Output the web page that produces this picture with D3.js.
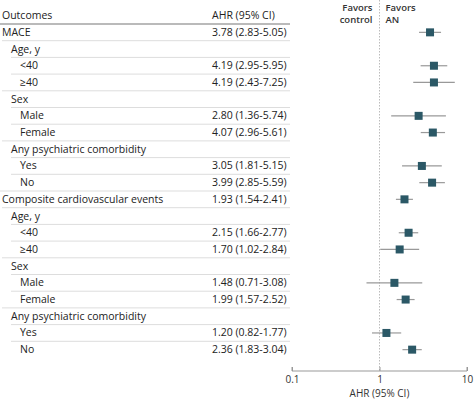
<!DOCTYPE html><html><head><meta charset="utf-8"><script src="https://cdn.jsdelivr.net/npm/d3@7"></script>
<style>body{margin:0;background:#fff}text{font-family:"Open Sans","Noto Sans",sans-serif}</style></head><body>
<svg id="c" width="474" height="402"></svg>
<script>
const labels=["MACE","Age, y","<40","≥40","Sex","Male","Female","Any psychiatric comorbidity","Yes","No","Composite cardiovascular events","Age, y","<40","≥40","Sex","Male","Female","Any psychiatric comorbidity","Yes","No"];
const levels=[0,1,2,2,1,2,2,1,2,2,0,1,2,2,1,2,2,1,2,2];
const est=[3.78,null,4.19,4.19,null,2.80,4.07,null,3.05,3.99,1.93,null,2.15,1.70,null,1.48,1.99,null,1.20,2.36];
const lo=[2.83,null,2.95,2.43,null,1.36,2.96,null,1.81,2.85,1.54,null,1.66,1.02,null,0.71,1.57,null,0.82,1.83];
const hi=[5.05,null,5.95,7.25,null,5.74,5.61,null,5.15,5.59,2.41,null,2.77,2.84,null,3.08,2.52,null,1.77,3.04];
const ticks=[0.1,1,10];
const svg=d3.select("#c");
const x=d3.scaleLog().domain([0.1,10]).range([292,467]);
const y=d3.scaleBand().domain(d3.range(labels.length)).range([24,358]);
const fmt=v=>v.toFixed(2);
svg.append("text").attr("x",2).attr("y",19).attr("font-size",10.5).attr("fill","#222").text("Outcomes");
svg.append("text").attr("x",212).attr("y",19).attr("font-size",10.5).attr("fill","#222").text("AHR (95% CI)");
svg.append("line").attr("x1",0).attr("x2",290).attr("y1",24).attr("y2",24).attr("stroke","#777").attr("stroke-width",1.2);
labels.forEach((l,i)=>{
  const cy=y(i)+y.bandwidth()/2;
  svg.append("text").attr("x",2+levels[i]*9).attr("y",cy+3.5).attr("font-size",10.5).attr("fill","#222").text(l);
  if(est[i]!=null) svg.append("text").attr("x",212).attr("y",cy+3.5).attr("font-size",10.5).attr("fill","#222").text(`${fmt(est[i])} (${fmt(lo[i])}-${fmt(hi[i])})`);
  if(i<labels.length-1) svg.append("line").attr("x1",levels[i+1]>0?(levels[i+1]-1)*9+2:0).attr("x2",290).attr("y1",y(i+1)).attr("y2",y(i+1)).attr("stroke","#ddd");
});
svg.append("line").attr("x1",x(1)).attr("x2",x(1)).attr("y1",0).attr("y2",371).attr("stroke","#bbb").attr("stroke-dasharray","1.5,1.5");
[["Favors","control",x(1)-7,"end"],["Favors","AN",x(1)+6,"start"]].forEach(([a,b,xx,an])=>{
  svg.append("text").attr("x",xx).attr("y",11).attr("font-size",9.5).attr("font-weight",600).attr("fill","#333").attr("text-anchor",an).text(a);
  svg.append("text").attr("x",xx).attr("y",23).attr("font-size",9.5).attr("font-weight",600).attr("fill","#333").attr("text-anchor",an).text(b);
});
labels.forEach((l,i)=>{
  if(est[i]==null)return;
  const cy=y(i)+y.bandwidth()/2;
  svg.append("line").attr("x1",x(lo[i])).attr("x2",x(hi[i])).attr("y1",cy).attr("y2",cy).attr("stroke","#999").attr("stroke-width",1.2);
  svg.append("rect").attr("x",x(est[i])-4).attr("y",cy-4).attr("width",8).attr("height",8).attr("fill","#2b5866");
});
const ax=svg.append("g").attr("transform","translate(0,371)").call(d3.axisBottom(x).tickValues(ticks).tickFormat(d=>d).tickSize(4));
ax.select(".domain").attr("stroke","#999").attr("d","M292,-4V0H467V-4");
ax.selectAll(".tick line").attr("stroke","#999").attr("y2",-4);
ax.selectAll("text").attr("font-size",10).attr("fill","#333").attr("y",5).attr("font-family","Open Sans");
svg.append("text").attr("x",x(1)).attr("y",397).attr("text-anchor","middle").attr("font-size",10).attr("fill","#333").text("AHR (95% CI)");
</script></body></html>
